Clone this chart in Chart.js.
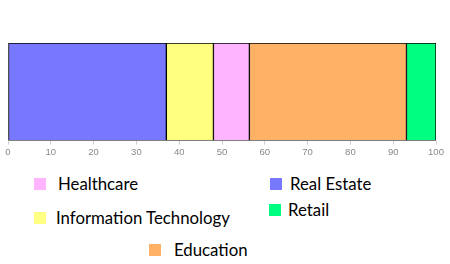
<!DOCTYPE html>
<html>
<head>
<meta charset="utf-8">
<script src="https://cdn.jsdelivr.net/npm/chart.js@4/dist/chart.umd.min.js"></script>
<style>
  body { margin: 0; background: #fff; }
  #wrap { position: relative; width: 450px; height: 264px; }
  #bar { position: absolute; left: 0; top: 0; }
  .item { position: absolute; font-family: Lato, "Open Sans", sans-serif; font-size: 16.8px; line-height: 20px; color: #000; white-space: nowrap; }
  .box { position: absolute; width: 12px; height: 12px; }
</style>
</head>
<body>
<div id="wrap">
  <canvas id="bar" width="450" height="160"></canvas>
</div>
<script>
// segment order along the bar, left to right
const sectors = ['Real Estate', 'Information Technology', 'Healthcare', 'Education', 'Retail'];
const shares = [37, 11, 8.4, 36.7, 6.9];
const colors = ['#7878ff', '#ffff80', '#ffb4ff', '#ffb266', '#00ff80'];
const xTicks = [0, 10, 20, 30, 40, 50, 60, 70, 80, 90, 100];

// legend spots (box left/top, text left) as laid out in the original
const legendSpots = {
  'Healthcare':             { bx: 34,  by: 178, tx: 58 },
  'Information Technology': { bx: 34,  by: 212, tx: 56 },
  'Education':              { bx: 149, by: 244, tx: 174 },
  'Real Estate':            { bx: 270, by: 178, tx: 290 },
  'Retail':                 { bx: 269, by: 204, tx: 288 }
};

const datasets = sectors.map(function(name, i) {
  return {
    label: name,
    data: [shares[i]],
    backgroundColor: colors[i],
    borderColor: '#000',
    borderWidth: 1,
    borderSkipped: false,
    barPercentage: 1,
    categoryPercentage: 1
  };
});

new Chart(document.getElementById('bar'), {
  type: 'bar',
  data: { labels: [''], datasets: datasets },
  options: {
    responsive: false,
    animation: false,
    indexAxis: 'y',
    layout: { padding: { top: 43, left: 8, right: 14, bottom: 0 } },
    plugins: { legend: { display: false }, tooltip: { enabled: false } },
    scales: {
      x: {
        stacked: true,
        min: 0,
        max: 100,
        afterBuildTicks: function(axis) {
          axis.ticks = xTicks.map(function(v) { return { value: v }; });
        },
        grid: { drawOnChartArea: false, drawTicks: true, tickLength: 4, color: '#ccc' },
        border: { display: false },
        ticks: { color: '#888', font: { family: 'Arial, "Liberation Sans"', size: 9.5 }, padding: 2, maxRotation: 0 }
      },
      y: {
        stacked: true,
        display: false
      }
    }
  }
});

// legend, placed by hand like the source
const wrap = document.getElementById('wrap');
sectors.forEach(function(name, i) {
  const s = legendSpots[name];
  const box = document.createElement('div');
  box.className = 'box';
  box.style.left = s.bx + 'px';
  box.style.top = s.by + 'px';
  box.style.background = colors[i];
  wrap.appendChild(box);
  const txt = document.createElement('div');
  txt.className = 'item';
  txt.style.left = s.tx + 'px';
  txt.style.top = (s.by - 4) + 'px';
  txt.textContent = name;
  wrap.appendChild(txt);
});
</script>
</body>
</html>
